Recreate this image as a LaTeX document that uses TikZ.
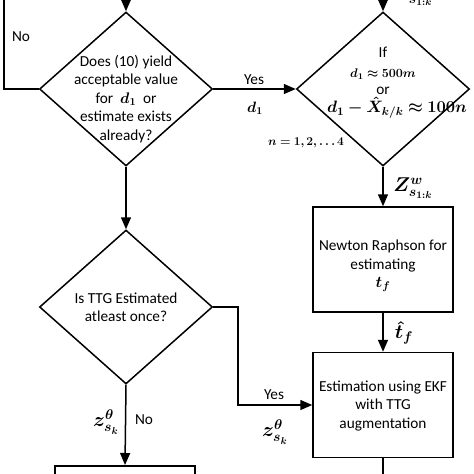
\documentclass[tikz,border=0pt]{standalone}
\usepackage{fix-cm}
\usepackage{amsmath,bm}
\usepackage[no-math]{fontspec}
\setmainfont{Carlito}
\usetikzlibrary{shapes.geometric,arrows.meta}
\tikzset{
  dia/.style={diamond, draw, inner sep=0pt, minimum width=173pt, minimum height=154pt},
  box/.style={rectangle, draw, inner sep=0pt, minimum width=140pt, minimum height=105pt},
  txt/.style={align=center, inner sep=0pt, font=\fontsize{15.3}{18.5}\selectfont},
  lbl/.style={inner sep=0pt, font=\fontsize{15.3}{18.5}\selectfont},
  mlbl/.style={inner sep=0pt, font=\fontsize{20}{24}\selectfont},
  arr/.style={-{Triangle[length=12pt,width=10pt]}},
}
\begin{document}
\begin{tikzpicture}[x=1pt,y=-1pt,line width=1.5pt]
\useasboundingbox (0,0) rectangle (474,474);
\clip (0,0) rectangle (474,474);
% shapes
\node[dia] (d1) at (126,89) {};
\node[txt] (t1) at (126,99) {Does (10) yield\\acceptable value\\for \ $\bm{d_1}$ \ or\\estimate exists\\already?};
\node[dia] (d2) at (383,89) {};
\node[lbl] (t2a) at (383,52) {If};
\node[inner sep=0pt,font=\fontsize{12.5}{14}\selectfont] (t2b) at (383,74) {$\bm{d_1\approx 500m}$};
\node[lbl] (t2c) at (383,91) {or};
\node[inner sep=0pt,font=\fontsize{16.5}{20}\selectfont] (t2d) at (397,108) {$\bm{d_1-\hat{X}_{k/k}\approx 100n}$};
\node[inner sep=0pt,font=\fontsize{12}{14}\selectfont] (nn) at (306,143) {$\bm{n=1,2,\ldots 4}$};
\node[dia] (d3) at (126,307) {};
\node[txt] (t3) at (126,307) {Is TTG Estimated\\atleast once?};
\node[box] (nr) at (383,259.5) {};
\node[txt] (tnr) at (383,266) {Newton Raphson for\\estimating\\{\fontsize{16}{19}\selectfont$\bm{t_f}$}};
\node[box] (ekf) at (383,405) {};
\node[txt] (tekf) at (383,406) {Estimation using EKF\\with TTG\\augmentation};
\node[box, minimum height=110pt, anchor=north] (b) at (125,465) {};
% free ends
\coordinate (top1) at (126,-20);
\coordinate (top2) at (383,-20);
\coordinate (lft) at (4,-20);
\coordinate (bend) at (238,350);
\coordinate (bot) at (383,490);
% connectors
\draw[arr] (top1) -- (d1.north);
\draw[arr] (top2) -- (d2.north);
\draw (d1.west) -| (lft);
\draw[arr] (d1.east) -- (d2.west);
\draw[arr] (d1.south) -- (d3.north);
\draw[arr] (d2.south) -- (nr.north);
\draw[arr] (nr.south) -- (ekf.north);
\draw[arr] (d3.east) -| (bend) |- (ekf.west);
\draw[arr] (d3.south) -- (b.north);
\draw (ekf.south) -- (bot);
% labels
\node[lbl] (no1) at (21,37) {No};
\node[lbl] (yes1) at (254,80) {Yes};
\node[inner sep=0pt,font=\fontsize{15}{18}\selectfont] (dl) at (255,108) {$\bm{d_1}$};
\node[mlbl] (zw0) at (413,-5) {$\bm{Z^{w}_{s_{1:k}}}$};
\node[mlbl] (zw) at (413,188) {$\bm{Z^{w}_{s_{1:k}}}$};
\node[mlbl] (tf) at (404,333) {$\bm{\hat{t}_f}$};
\node[lbl] (yes2) at (274,395) {Yes};
\node[mlbl] (z2) at (275,432) {$\bm{z^{\theta}_{s_k}}$};
\node[mlbl] (z1) at (106,422) {$\bm{z^{\theta}_{s_k}}$};
\node[lbl] (no2) at (144,420) {No};
\end{tikzpicture}
\end{document}
